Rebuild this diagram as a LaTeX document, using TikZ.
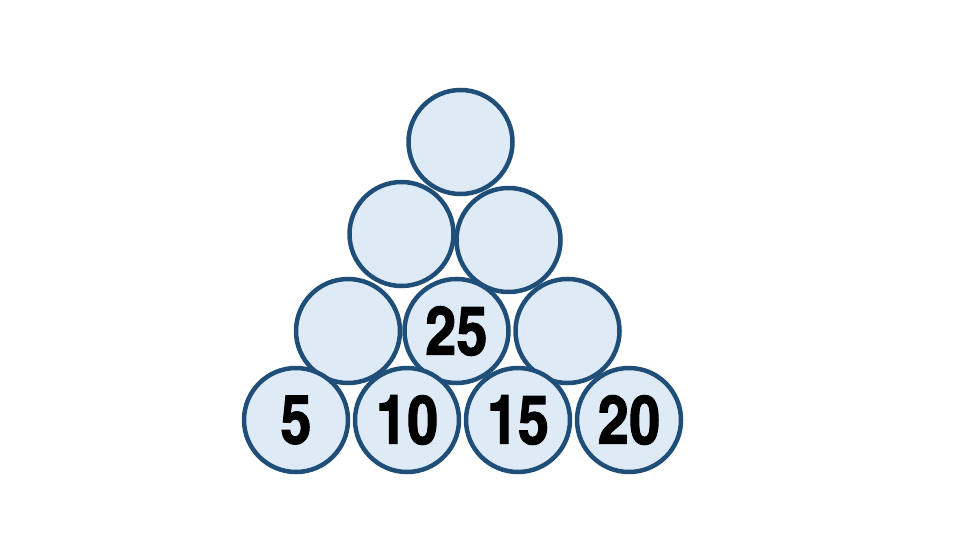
\documentclass[tikz,border=0pt]{standalone}
\usepackage{fontspec}
\newfontfamily\ballfont{TeX Gyre Heros Cn Bold}[FakeBold=1.5]
\definecolor{ballfill}{HTML}{DEEAF6}
\definecolor{balledge}{HTML}{1F4E79}
\tikzset{
ball/.style={draw=balledge, fill=ballfill, circle, line width=4.5pt,
	minimum size=104pt, inner sep=0pt, font=\ballfont\fontsize{68}{68}\selectfont},
}

\begin{document}
\begin{tikzpicture}[x=1pt, y=-1pt]
\useasboundingbox (0,0) rectangle (960,540);

\node[ball] (t) at (460.5,142) {};

\node[ball] (21) at (401.5,234) {};
\node[ball] (22) at (508.5,240) {};

\node[ball] (31) at (348,331) {};
\node[ball] (32) at (456.5,331) {25};
\node[ball] (33) at (567.5,331) {};

\node[ball] (41) at (296,420) {5};
\node[ball] (42) at (407,420) {10};
\node[ball] (43) at (518,420) {15};
\node[ball] (44) at (629,420) {20};
\end{tikzpicture}
\end{document}
